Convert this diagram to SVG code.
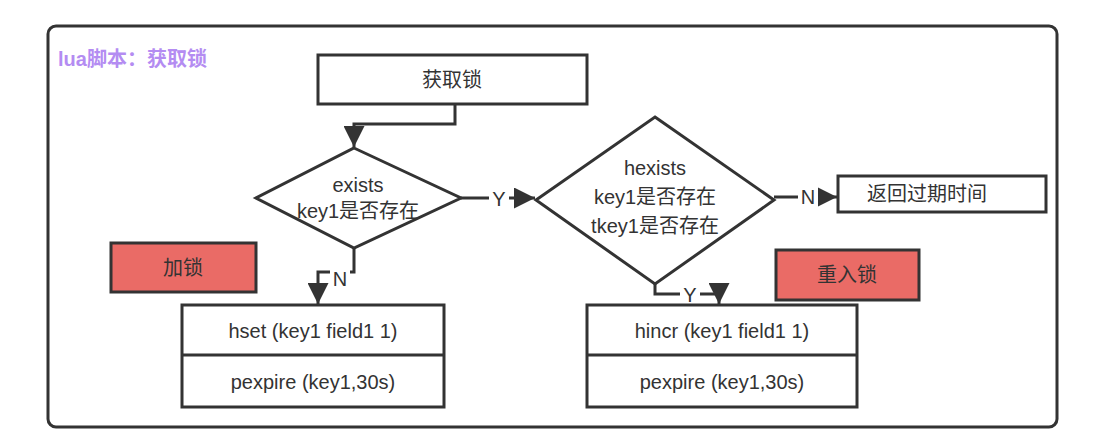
<svg xmlns="http://www.w3.org/2000/svg" width="1110" height="446" viewBox="0 0 1110 446">
<defs>
<style>
.s{fill:#fff;stroke:#333;stroke-width:3}
.r{fill:#ea6b66;stroke:#333;stroke-width:3}
.c{fill:none;stroke:#333;stroke-width:3}
text{font-family:"Liberation Sans","Noto Sans CJK SC",sans-serif;font-size:20px;fill:#333;text-anchor:middle}
.l{fill:#fff}
</style>
<marker id="a" viewBox="0 0 10 10" refX="9" refY="5" markerWidth="7" markerHeight="7" markerUnits="userSpaceOnUse" orient="auto"><path d="M0,1 L10,5 L0,9 Z" fill="#333"/></marker>
<marker id="b" viewBox="0 0 10 10" refX="10" refY="5" markerWidth="8" markerHeight="7" orient="auto" markerUnits="strokeWidth"><path d="M0,0 L10,5 L0,10 Z" fill="#333"/></marker>
</defs>
<rect width="1110" height="446" fill="#fff"/>
<rect x="48" y="26" width="1009" height="401" rx="8" fill="#fff" stroke="#333" stroke-width="3"/>
<text x="58" y="66" style="text-anchor:start;fill:#b48cf2;font-weight:bold">lua脚本：获取锁</text>
<g id="connectors">
<path class="c" d="M455,104 V124 H354 V147" marker-end="url(#b)"/>
<path class="c" d="M461,198 H535" marker-end="url(#b)"/>
<path class="c" d="M774,197 H837" marker-end="url(#b)"/>
<path class="c" d="M354,248 V272 H318 V304" marker-end="url(#b)"/>
<path class="c" d="M655,284 V294 H719 V304" marker-end="url(#b)"/>
<rect class="l" x="489" y="188" width="20" height="22"/><text x="499" y="206">Y</text>
<rect class="l" x="798" y="186" width="20" height="22"/><text x="808" y="204">N</text>
<rect class="l" x="330" y="268" width="20" height="22"/><text x="340" y="286">N</text>
<rect class="l" x="680" y="284" width="20" height="22"/><text x="690" y="302">Y</text>
</g>
<g id="start"><rect class="s" x="318" y="55" width="269" height="49"/><text x="452" y="87">获取锁</text></g>
<g id="d1"><path class="s" d="M354,148 L461,198 L354,248 L256,198 Z"/><text x="358" y="192">exists</text><text x="358" y="218">key1是否存在</text></g>
<g id="d2"><path class="s" d="M655,117 L774,200 L655,284 L536,200 Z"/><text x="655" y="175">hexists</text><text x="655" y="204">key1是否存在</text><text x="655" y="233">tkey1是否存在</text></g>
<g id="ret"><rect class="s" x="838" y="176" width="208" height="36"/><text x="927" y="201">返回过期时间</text></g>
<g id="lock"><rect class="r" x="111" y="243" width="145" height="49"/><text x="183" y="275">加锁</text></g>
<g id="relock"><rect class="r" x="776" y="250" width="143" height="50"/><text x="847" y="282">重入锁</text></g>
<g id="t1"><rect class="s" x="182" y="305" width="262" height="102"/><line class="c" x1="182" y1="355" x2="444" y2="355"/><text x="313" y="338">hset (key1 field1 1)</text><text x="313" y="389">pexpire (key1,30s)</text></g>
<g id="t2"><rect class="s" x="587" y="305" width="270" height="102"/><line class="c" x1="587" y1="355" x2="857" y2="355"/><text x="722" y="338">hincr (key1 field1 1)</text><text x="722" y="389">pexpire (key1,30s)</text></g>
</svg>
